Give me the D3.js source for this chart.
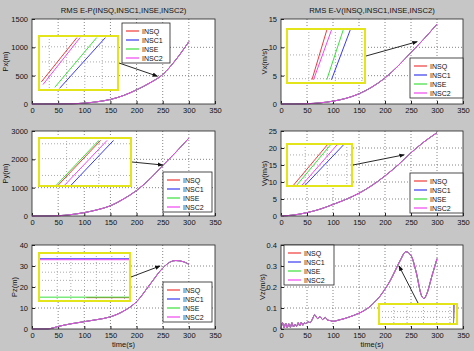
<!DOCTYPE html>
<html>
<head>
<meta charset="utf-8">
<script src="https://cdn.jsdelivr.net/npm/d3@7"></script>
<style>
  body { margin: 0; background: #c6c6c6; }
  svg { display: block; font-family: "Liberation Sans", Arial, sans-serif; }
</style>
</head>
<body>
<div id="chart"></div>
<script>
// ---- data ----
const seriesNames = ["INSQ", "INSC1", "INSE", "INSC2"];
const xTicks = [0, 50, 100, 150, 200, 250, 300, 350];

const timeMain = [0, 25, 50, 75, 100, 125, 150, 175, 200, 225, 250, 275, 300];
const pxVals = [0, 0, 1, 4, 15, 40, 80, 150, 250, 370, 520, 780, 1100];
const vxVals = [0, 0, 0.05, 0.2, 0.5, 1.0, 1.8, 3.0, 4.6, 6.7, 9.1, 11.5, 14.1];
const pyVals = [0, 0, 10, 50, 120, 220, 360, 600, 900, 1300, 1780, 2250, 2750];
const vyVals = [0, 0.3, 1.0, 2.0, 3.4, 4.9, 6.7, 9.0, 11.8, 15.0, 18.6, 21.8, 24.5];

const timePz = [0, 25, 35, 50, 75, 100, 125, 150, 175, 200, 225, 250, 265, 275, 290, 300];
const pzVals = [0, 0, 0.2, 1.2, 2.5, 3.5, 4.5, 5.8, 8.5, 13, 21, 29, 32, 32.6, 32, 30.8];

const timeVz = [0, 3, 6, 9, 12, 15, 18, 21, 24, 27, 30, 33, 36, 39, 42, 45, 48, 52, 56, 60, 65, 70, 75, 80, 85, 90, 95,
  100, 110, 120, 130, 140, 150, 160, 170, 180, 190, 200, 210, 220, 230, 240, 250, 260, 270, 275, 280, 290, 300];
const vzVals = [0, 0.03, 0.005, 0.028, 0.006, 0.025, 0.008, 0.03, 0.01, 0.022, 0.012, 0.03, 0.015, 0.032, 0.018, 0.03,
  0.025, 0.035, 0.03, 0.045, 0.068, 0.05, 0.058, 0.045, 0.055, 0.042, 0.04, 0.036, 0.042, 0.048, 0.056, 0.065, 0.075,
  0.088, 0.105, 0.128, 0.155, 0.19, 0.23, 0.28, 0.33, 0.368, 0.35, 0.27, 0.16, 0.145, 0.165, 0.25, 0.335];

// zoomed insets: one segment per series [x1, y1, x2, y2] in inset units (0..1)
const pxInset = [[0.03, 0.15, 0.48, 0.97], [0.26, 0.03, 0.84, 0.97], [0.20, 0.05, 0.73, 0.97], [0.05, 0.10, 0.52, 0.97]];
const vxInset = [[0.32, 0.06, 0.51, 0.98], [0.57, 0.06, 0.81, 0.98], [0.51, 0.06, 0.72, 0.98], [0.34, 0.06, 0.57, 0.98]];
const pyInset = [[0.21, 0.02, 0.67, 0.95], [0.35, 0.02, 0.81, 0.95], [0.19, 0.02, 0.65, 0.95], [0.28, 0.02, 0.74, 0.95]];
const vyInset = [[0.10, 0.02, 0.62, 0.98], [0.28, 0.02, 0.87, 0.98], [0.15, 0.02, 0.67, 0.98], [0.23, 0.02, 0.77, 0.98]];
const pzInset = [[0.52, 0.07, 1, 0.07], [0, 0.88, 1, 0.88], [0, 0.08, 1, 0.08], [0, 0.86, 1, 0.86]];
const vzInset = [[0.955, 0.05, 0.96, 0.95], [0.955, 0.05, 0.96, 0.95], [0.955, 0.05, 0.96, 0.95], [0.955, 0.05, 0.96, 0.95]];

// ---- layout ----
const W = 474, H = 351;
const colors = { INSQ: "#f03a3a", INSC1: "#3a3af0", INSE: "#3ae03a", INSC2: "#f046f0" };

const panels = [
  { x: 32, y: 19, w: 183, h: 85, title: "RMS E-P(INSQ,INSC1,INSE,INSC2)", ylabel: "Px(m)", yOff: 24,
    time: timeMain, vals: pxVals, yDomain: [0, 1500], yTicks: [0, 500, 1000, 1500],
    legend: { dx: 90, dy: 4, w: 48 },
    inset: { dx: 7, dy: 17, w: 79, h: 54, lines: pxInset, gx: [0.13, 0.35, 0.58, 0.8], gy: [0.8, 0.52, 0.25] },
    arrow: { from: "right", to: [240, 490] } },
  { x: 281, y: 19, w: 182, h: 85, title: "RMS E-V(INSQ,INSC1,INSE,INSC2)", ylabel: "Vx(m/s)", yOff: 14,
    time: timeMain, vals: vxVals, yDomain: [0, 15], yTicks: [0, 5, 10, 15],
    legend: { dx: 129, dy: 39, w: 53 },
    inset: { dx: 6, dy: 10, w: 78, h: 54, lines: vxInset, gx: [0.28, 0.62, 0.96], gy: [0.52, 0.08] },
    arrow: { from: "right", to: [262, 11] } },
  { x: 32, y: 131, w: 183, h: 85, ylabel: "Py(m)", yOff: 24,
    time: timeMain, vals: pyVals, yDomain: [0, 3000], yTicks: [0, 1000, 2000, 3000],
    legend: { dx: 131, dy: 41, w: 49 },
    inset: { dx: 7, dy: 7, w: 92, h: 48, lines: pyInset, gx: [0.3, 0.65], gy: [0.88, 0.57, 0.22] },
    arrow: { from: "right", to: [250, 1800] } },
  { x: 281, y: 131, w: 182, h: 85, ylabel: "Vy(m/s)", yOff: 14,
    time: timeMain, vals: vyVals, yDomain: [0, 25], yTicks: [0, 5, 10, 15, 20, 25],
    legend: { dx: 129, dy: 42, w: 53 },
    inset: { dx: 6, dy: 13, w: 65, h: 42, lines: vyInset, gx: [0.28, 0.62, 0.92], gy: [0.74, 0.5, 0.26] },
    arrow: { from: "right", to: [237, 18] } },
  { x: 32, y: 245, w: 183, h: 84, ylabel: "Pz(m)", yOff: 15, xlabel: "time(s)",
    time: timePz, vals: pzVals, yDomain: [0, 40], yTicks: [0, 10, 20, 30, 40],
    legend: { dx: 131, dy: 37, w: 49 },
    inset: { dx: 7, dy: 8, w: 91, h: 48, lines: pzInset, gx: [0.2, 0.35, 0.5, 0.63, 0.8, 0.94], gy: [0.78, 0.6, 0.43, 0.22] },
    arrow: { from: "right", to: [245, 30] } },
  { x: 281, y: 245, w: 182, h: 84, ylabel: "Vz(m/s)", yOff: 16, xlabel: "time(s)",
    time: timeVz, vals: vzVals, yDomain: [0, 0.4], yTicks: [0, 0.1, 0.2, 0.3, 0.4],
    legend: { dx: 3, dy: 0, w: 50 },
    inset: { dx: 98, dy: 59, w: 78, h: 20, lines: vzInset, gx: [0.19, 0.36, 0.57, 0.74, 0.91], gy: [0.62, 0.33] },
    arrow: { from: "top", to: [227, 0.30] } }
];

const svg = d3.select("#chart").append("svg")
  .attr("width", W)
  .attr("height", H)
  .style("background", "#c6c6c6");

const defs = svg.append("defs");
defs.append("marker")
  .attr("id", "head")
  .attr("viewBox", "0 0 10 10")
  .attr("refX", 9).attr("refY", 5)
  .attr("markerWidth", 6).attr("markerHeight", 6)
  .attr("orient", "auto")
  .append("path")
  .attr("d", "M0,1 L10,5 L0,9 Z")
  .attr("fill", "#111");

panels.forEach(p => {
  const x = d3.scaleLinear().domain([0, 350]).range([p.x, p.x + p.w]);
  const y = d3.scaleLinear().domain(p.yDomain).range([p.y + p.h, p.y]);
  const g = svg.append("g");

  g.append("rect")
    .attr("x", p.x).attr("y", p.y)
    .attr("width", p.w).attr("height", p.h)
    .attr("fill", "#fff");

  // dotted grid
  g.selectAll(".gx").data(xTicks.slice(1, -1)).enter().append("line")
    .attr("x1", d => x(d)).attr("x2", d => x(d))
    .attr("y1", p.y).attr("y2", p.y + p.h)
    .attr("stroke", "#666").attr("stroke-width", 0.8).attr("stroke-dasharray", "1,2");
  g.selectAll(".gy").data(p.yTicks.slice(1, -1)).enter().append("line")
    .attr("x1", p.x).attr("x2", p.x + p.w)
    .attr("y1", d => y(d)).attr("y2", d => y(d))
    .attr("stroke", "#666").attr("stroke-width", 0.8).attr("stroke-dasharray", "1,2");

  // axes
  const ax = g.append("g")
    .attr("transform", `translate(0,${p.y + p.h})`)
    .call(d3.axisBottom(x).tickValues(xTicks).tickSize(-3).tickPadding(4));
  const ay = g.append("g")
    .attr("transform", `translate(${p.x},0)`)
    .call(d3.axisLeft(y).tickValues(p.yTicks).tickSize(-3).tickPadding(4).tickFormat(d3.format("")));
  [ax, ay].forEach(a => {
    a.select(".domain").remove();
    a.selectAll("line").attr("stroke", "#222");
    a.selectAll("text").attr("fill", "#111").style("font-size", "7.5px").attr("font-family", null);
  });

  // curves, all series overlap, INSC2 on top
  const line = d3.line()
    .x((d, i) => x(p.time[i]))
    .y(d => y(d))
    .curve(d3.curveMonotoneX);
  seriesNames.forEach(s => {
    g.append("path")
      .datum(p.vals)
      .attr("d", line)
      .attr("fill", "none")
      .attr("stroke", colors[s])
      .attr("stroke-width", 1);
  });

  // frame
  g.append("rect")
    .attr("x", p.x).attr("y", p.y)
    .attr("width", p.w).attr("height", p.h)
    .attr("fill", "none").attr("stroke", "#222").attr("stroke-width", 0.8);

  // zoom inset
  const ins = p.inset;
  const ix0 = p.x + ins.dx, iy0 = p.y + ins.dy;
  const ix = d3.scaleLinear().domain([0, 1]).range([ix0, ix0 + ins.w]);
  const iy = d3.scaleLinear().domain([0, 1]).range([iy0 + ins.h, iy0]);
  g.append("rect")
    .attr("x", ix0).attr("y", iy0).attr("width", ins.w).attr("height", ins.h)
    .attr("fill", "#fff");
  g.selectAll(".igx").data(ins.gx).enter().append("line")
    .attr("x1", d => ix(d)).attr("x2", d => ix(d))
    .attr("y1", iy0).attr("y2", iy0 + ins.h)
    .attr("stroke", "#888").attr("stroke-width", 0.7).attr("stroke-dasharray", "1,2");
  g.selectAll(".igy").data(ins.gy).enter().append("line")
    .attr("x1", ix0).attr("x2", ix0 + ins.w)
    .attr("y1", d => iy(d)).attr("y2", d => iy(d))
    .attr("stroke", "#888").attr("stroke-width", 0.7).attr("stroke-dasharray", "1,2");
  g.selectAll(".iseg").data(ins.lines).enter().append("line")
    .attr("x1", d => ix(d[0])).attr("y1", d => iy(d[1]))
    .attr("x2", d => ix(d[2])).attr("y2", d => iy(d[3]))
    .attr("stroke", (d, i) => colors[seriesNames[i]])
    .attr("stroke-width", 1);
  g.append("rect")
    .attr("x", ix0).attr("y", iy0).attr("width", ins.w).attr("height", ins.h)
    .attr("fill", "none").attr("stroke", "#e4e41a").attr("stroke-width", 2);

  // arrow from inset to curve
  const a0 = p.arrow.from === "right"
    ? [ix0 + ins.w + 1, iy0 + ins.h / 2]
    : [ix0 + ins.w / 2, iy0 - 1];
  g.append("line")
    .attr("x1", a0[0]).attr("y1", a0[1])
    .attr("x2", x(p.arrow.to[0])).attr("y2", y(p.arrow.to[1]))
    .attr("stroke", "#111").attr("stroke-width", 0.9)
    .attr("marker-end", "url(#head)");

  // legend
  const lx = p.x + p.legend.dx, ly = p.y + p.legend.dy;
  g.append("rect")
    .attr("x", lx).attr("y", ly).attr("width", p.legend.w).attr("height", 40)
    .attr("fill", "#fff").attr("stroke", "#222").attr("stroke-width", 0.8);
  const items = g.selectAll(".leg").data(seriesNames).enter().append("g")
    .attr("transform", (d, i) => `translate(${lx},${ly + 8 + i * 9})`);
  items.append("line")
    .attr("x1", 4).attr("x2", 17).attr("y1", 0).attr("y2", 0)
    .attr("stroke", d => colors[d]).attr("stroke-width", 1.2);
  items.append("text")
    .attr("x", 20).attr("y", 3)
    .style("font-size", "7px").attr("fill", "#111")
    .text(d => d);

  // labels
  if (p.title) {
    g.append("text")
      .attr("x", p.x + p.w / 2).attr("y", p.y - 6)
      .attr("text-anchor", "middle")
      .style("font-size", "7.7px").attr("fill", "#111")
      .text(p.title);
  }
  g.append("text")
    .attr("transform", `translate(${p.x - p.yOff},${p.y + p.h / 2}) rotate(-90)`)
    .attr("text-anchor", "middle")
    .style("font-size", "7.5px").attr("fill", "#111")
    .text(p.ylabel);
  if (p.xlabel) {
    g.append("text")
      .attr("x", p.x + p.w / 2).attr("y", p.y + p.h + 18)
      .attr("text-anchor", "middle")
      .style("font-size", "7.5px").attr("fill", "#111")
      .text(p.xlabel);
  }
});
</script>
</body>
</html>
